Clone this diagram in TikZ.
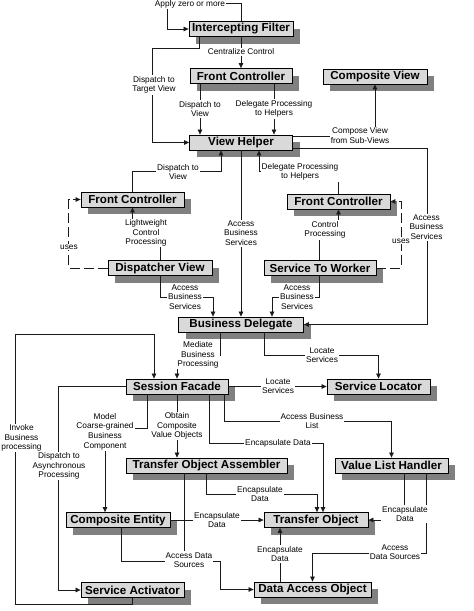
\documentclass[tikz,border=0pt]{standalone}
\usepackage{fontspec}
\setmainfont{Liberation Sans}
\usetikzlibrary{arrows.meta,shadows}
\definecolor{boxfill}{HTML}{D9D9D9}
\definecolor{shadowgray}{HTML}{808080}
\definecolor{linecol}{HTML}{1A1A1A}
\tikzset{
  box/.style={draw=black, line width=0.8pt, fill=boxfill, minimum height=15pt, inner sep=0pt,
    font=\fontsize{11.6}{12}\selectfont\bfseries,
    drop shadow={shadow xshift=7pt, shadow yshift=-7pt, fill=shadowgray, opacity=1}},
  conn/.style={draw=linecol, line width=0.7pt},
  arr/.style={conn, -{Triangle[length=5pt,width=4.5pt]}},
  usesline/.style={arr, dash pattern=on 10pt off 4pt},
  lbl/.style={fill=white, inner sep=1pt, font=\fontsize{8.3}{9.6}\selectfont, align=center},
}
\begin{document}
\begin{tikzpicture}[x=1pt,y=-1pt]
\fill[white] (0,0) rectangle (474,611);
\useasboundingbox (0,0) rectangle (474,611);
% ---------------- boxes
\node[box, minimum width=104pt] (IF)  at (241,29)    {Intercepting Filter};
\node[box, minimum width=102pt] (FC1) at (241,76)    {Front Controller};
\node[box, minimum width=104pt] (CV)  at (375,76.5)  {Composite View};
\node[box, minimum width=103pt] (VH)  at (241,142.5) {View Helper};
\node[box, minimum width=103pt] (FC2) at (132.5,199.5) {Front Controller};
\node[box, minimum width=103pt] (FC3) at (338.5,201.5) {Front Controller};
\node[box, minimum width=104pt] (DV)  at (160,268)   {Dispatcher View};
\node[box, minimum width=112pt] (STW) at (320,268)   {Service To Worker};
\node[box, minimum width=125pt] (BD)  at (241,324.5) {Business Delegate};
\node[box, minimum width=102pt] (SF)  at (177,386.5) {Session Facade};
\node[box, minimum width=103pt] (SL)  at (378.5,386.5) {Service Locator};
\node[box, minimum width=161pt] (TOA) at (206.5,465.5) {Transfer Object Assembler};
\node[box, minimum width=113pt] (VLH) at (391.5,465.5) {Value List Handler};
\node[box, minimum width=104pt] (CE)  at (118,520)   {Composite Entity};
\node[box, minimum width=104pt] (TO)  at (316,520)   {Transfer Object};
\node[box, minimum width=103pt] (SA)  at (132.5,590) {Service Activator};
\node[box, minimum width=117pt] (DAO) at (312.5,589.5) {Data Access Object};
% ---------------- connectors
\draw[arr] (IF.north) -- ++(0,-18) -- ++(-74,0) |- (IF.west);
\draw[arr] (IF.south) -- (FC1.north);
\draw[arr] ([xshift=-42pt]IF.south) -- ++(0,11) -- ++(-47,0) |- (VH.west);
\draw[arr] ([xshift=-41pt]FC1.south) -- ([xshift=-41pt]VH.north);
\draw[arr] ([xshift=33pt]FC1.south) -- ([xshift=33pt]VH.north);
\draw[arr] ([yshift=6.5pt]VH.east) -| (CV.south);
\draw[arr] ([yshift=-6pt]VH.east) -- ++(134,0) |- (BD.east);
\draw[arr] (VH.south) -- (BD.north);
\draw[arr] (FC2.north) -- ++(0,-20) -| ([xshift=-20pt]VH.south);
\draw[arr] (FC3.north) -- ++(0,-22) -| ([xshift=18pt]VH.south);
\draw[arr] (DV.north) -- ++(0,-28) -| (FC2.south);
\draw[usesline] (DV.west) -- ++(-39,0) |- (FC2.west);
\draw[arr] ([xshift=-1pt]STW.north) -- ++(0,-30) -| (FC3.south);
\draw[usesline] (STW.east) -- ++(25,0) |- (FC3.east);
\draw[arr] (DV.south) -- ++(0,21) -| ([xshift=-28pt]BD.north);
\draw[arr] ([xshift=-1pt]STW.south) -- ++(0,21) -| ([xshift=31pt]BD.north);
\draw[arr] ([xshift=-21pt]BD.south) -- ++(0,23) -| (SF.north);
\draw[arr] ([xshift=23pt]BD.south) -- ++(0,23) -| (SL.north);
\draw[arr] (SA.south) -- ++(0,6) -- ++(-117.5,0) -- ++(0,-270) -| ([xshift=-23pt]SF.north);
\draw[arr] (SF.east) -- (SL.west);
\draw[arr] (SF.west) -- ++(-67,0) |- (SA.west);
\draw[arr] ([xshift=-30pt]SF.south) -- ++(0,34) -| ([xshift=-13pt]CE.north);
\draw[arr] (SF.south) -- ([xshift=-29.5pt]TOA.north);
\draw[arr] ([xshift=32pt]SF.south) -- ++(0,49) -| ([xshift=7pt]TO.north);
\draw[arr] ([xshift=47pt]SF.south) -- ++(0,27) -| (VLH.north);
\draw[arr] ([xshift=-0.5pt]TOA.south) -- ++(0,21) -| ([xshift=1pt]TO.north);
\draw[arr] ([xshift=3pt]CE.south) -- ++(0,33) -- ++(99,0) |- (DAO.west);
\draw[conn] ([xshift=-22.5pt]TOA.south) -- ++(0,87);
\draw[arr] (CE.east) -- (TO.west);
\draw[arr] ([xshift=12.5pt]VLH.south) |- (TO.east);
\draw[arr] ([xshift=34.5pt]VLH.south) -- ++(0,80) -| (DAO.north);
\draw[arr] ([xshift=-32.5pt]DAO.north) -- ([xshift=-36pt]TO.south);
% ---------------- labels
\node[lbl] (l1)  at (190,4.5)   {Apply zero or more};
\node[lbl] (l2)  at (241,52)    {Centralize Control};
\node[lbl] (l3)  at (154,85)    {Dispatch to\\Target View};
\node[lbl] (l4)  at (200,109)   {Dispatch to\\View};
\node[lbl] (l5)  at (274,109)   {Delegate Processing\\to Helpers};
\node[lbl] (l6)  at (360,135.5) {Compose View\\from Sub-Views};
\node[lbl] (l7)  at (426.5,227) {Access\\Business\\Services};
\node[lbl] (l8)  at (241,233)   {Access\\Business\\Services};
\node[lbl] (l9)  at (178,172)   {Dispatch to\\View};
\node[lbl] (l10) at (300,172)   {Delegate Processing\\to Helpers};
\node[lbl] (l11) at (146,233)   {Lightweight\\Control\\Processing};
\node[lbl] (l12) at (69,247)    {uses};
\node[lbl] (l13) at (325,230)   {Control\\Processing};
\node[lbl] (l14) at (401,241)   {uses};
\node[lbl] (l15) at (185,297)   {Access\\Business\\Services};
\node[lbl] (l16) at (297,297)   {Access\\Business\\Services};
\node[lbl] (l17) at (198,355)   {Mediate\\Business\\Processing};
\node[lbl] (l18) at (322,355)   {Locate\\Services};
\node[lbl] (l19) at (21.5,438)  {Invoke\\Business\\processing};
\node[lbl] (l20) at (278,386)   {Locate\\Services};
\node[lbl] (l21) at (59,466)    {Dispatch to\\Asynchronous\\Processing};
\node[lbl] (l22) at (105,431.5) {Model\\Coarse-grained\\Business\\Component};
\node[lbl] (l23) at (177,426)   {Obtain\\Composite\\Value Objects};
\node[lbl] (l24) at (278,443)   {Encapsulate Data};
\node[lbl] (l25) at (312,421)   {Access Business\\List};
\node[lbl] (l26) at (260,494)   {Encapsulate\\Data};
\node[lbl] (l27) at (189,560)   {Access Data\\Sources};
\node[lbl] (l28) at (217,520)   {Encapsulate\\Data};
\node[lbl] (l29) at (405,514)   {Encapsulate\\Data};
\node[lbl] (l30) at (395,552)   {Access\\Data Sources};
\node[lbl] (l31) at (280,554)   {Encapsulate\\Data};
\end{tikzpicture}
\end{document}
